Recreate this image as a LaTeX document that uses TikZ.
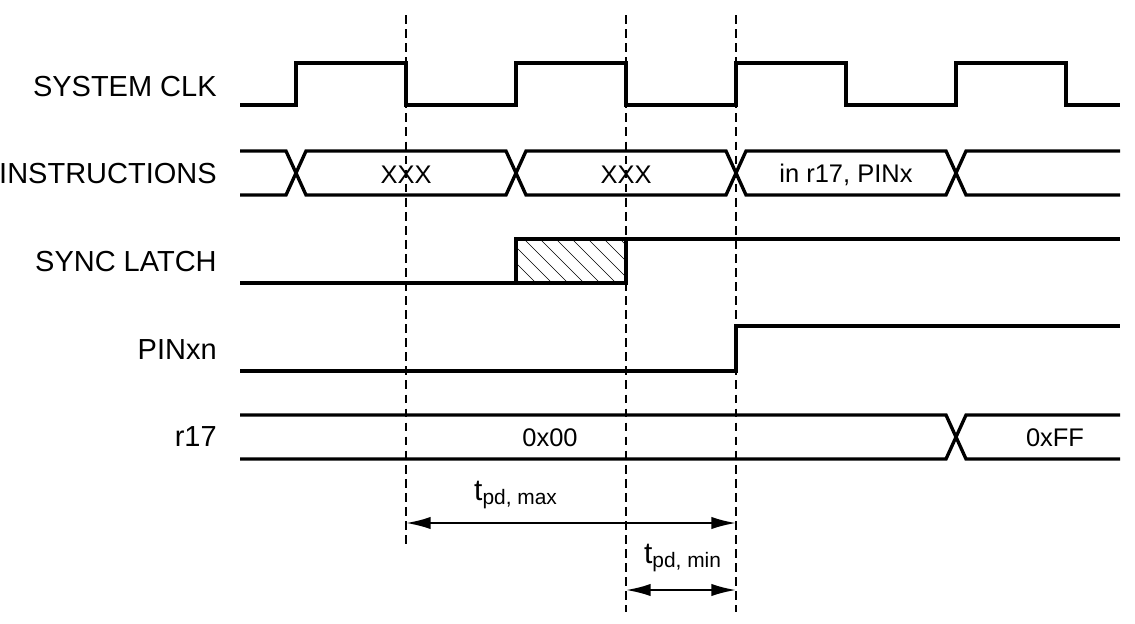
\documentclass[tikz,border=0pt]{standalone}
\usepackage{fontspec}
\setmainfont{Liberation Sans}
\usetikzlibrary{arrows.meta}
\tikzstyle{sig} = [line width=1.9pt]
\tikzstyle{tmark} = [line width=0.9pt, dash pattern=on 5pt off 3pt]
\tikzstyle{sname} = [anchor=east, inner sep=0pt, font=\fontsize{16.5}{18}\selectfont]
\tikzstyle{val} = [font=\fontsize{14.5}{16}\selectfont]
\tikzstyle{tspan} = [line width=1.2pt, {Latex[length=14pt,width=7pt]}-{Latex[length=14pt,width=7pt]}]

\begin{document}
\begin{tikzpicture}[x=0.02cm,y=-0.02cm]
\useasboundingbox (0,0) rectangle (1135,623);
% signal names
\node[sname] (clk) at (217,87) {SYSTEM CLK};
\node[sname] (ins) at (217,174) {INSTRUCTIONS};
\node[sname] (syn) at (217,262) {SYNC LATCH};
\node[sname] (pin) at (217,350) {PINxn};
\node[sname] (reg) at (217,437) {r17};
% clock
\draw[sig] (240,105) -- (296,105) -- (296,63) -- (406,63) -- (406,105) -- (516,105) -- (516,63) -- (626,63) -- (626,105) -- (736,105) -- (736,63) -- (846,63) -- (846,105) -- (956,105) -- (956,63) -- (1066,63) -- (1066,105) -- (1120,105);
% instructions bus
\draw[sig] (240,151) -- (286,151) -- (306,195) -- (506,195) -- (526,151) -- (726,151) -- (746,195) -- (946,195) -- (966,151) -- (1120,151);
\draw[sig] (240,195) -- (286,195) -- (306,151) -- (506,151) -- (526,195) -- (726,195) -- (746,151) -- (946,151) -- (966,195) -- (1120,195);
\node[val] (i1) at (406,175) {XXX};
\node[val] (i2) at (626,175) {XXX};
\node[val] (i3) at (846,175) {in r17, PINx};
% sync latch
\begin{scope}
\clip (516,239) rectangle (626,283);
\foreach \k in {0,16,...,176}
  \draw[line width=0.4pt] (\k+460,239) -- (\k+504,283);
\end{scope}
\draw[sig] (240,283) -- (626,283) -- (626,239) -- (1120,239);
\draw[sig] (516,283) -- (516,239) -- (626,239);
% PINxn
\draw[sig] (240,371) -- (736,371) -- (736,326) -- (1120,326);
% r17 bus
\draw[sig] (240,415) -- (946,415) -- (966,459) -- (1120,459);
\draw[sig] (240,459) -- (946,459) -- (966,415) -- (1120,415);
\node[val] (r1) at (550,438) {0x00};
\node[val] (r2) at (1055,438) {0xFF};
% timing marks
\coordinate (m1t) at (406,15);
\coordinate (m1b) at (406,548);
\coordinate (m2t) at (626,15);
\coordinate (m2b) at (626,612);
\coordinate (m3t) at (736,15);
\coordinate (m3b) at (736,612);
\draw[tmark] (m1t) -- (m1b);
\draw[tmark] (m2t) -- (m2b);
\draw[tmark] (m3t) -- (m3b);
\coordinate (a1) at (406,523);
\coordinate (a2) at (736,523);
\coordinate (b1) at (626,590);
\coordinate (b2) at (736,590);
\draw[tspan] (a1) -- (a2);
\draw[tspan] (b1) -- (b2);
\node[font=\fontsize{17}{19}\selectfont] (tmax) at (516,495) {t\textsubscript{pd, max}};
\node[font=\fontsize{17}{19}\selectfont] (tmin) at (683,558) {t\textsubscript{pd, min}};
\end{tikzpicture}
\end{document}
